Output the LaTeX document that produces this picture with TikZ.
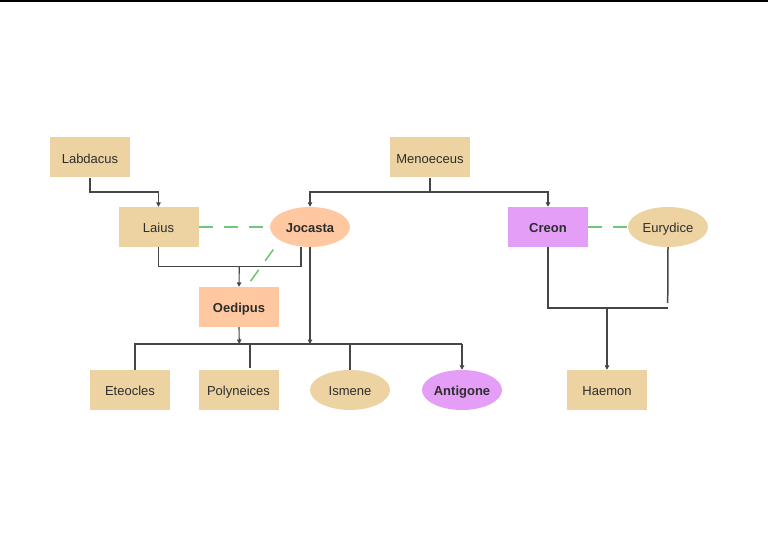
\documentclass[tikz,border=0pt]{standalone}
\usepackage{fontspec}
\setmainfont{Liberation Sans}
\usetikzlibrary{arrows.meta,shapes.geometric}
\definecolor{tan}{RGB}{237,211,161}
\definecolor{peach}{RGB}{255,200,160}
\definecolor{lilac}{RGB}{229,158,248}
\definecolor{mate}{RGB}{110,200,120}
\definecolor{txt}{RGB}{45,45,45}
\definecolor{ln}{RGB}{70,70,70}
\tikzset{
  box/.style={rectangle,draw=none,minimum width=80pt,minimum height=40pt,inner sep=0pt,text=txt,font=\fontsize{13}{15}\selectfont,text height=13.4pt,text depth=2pt},
  oval/.style={ellipse,draw=none,minimum width=80pt,minimum height=40pt,inner sep=0pt,text=txt,font=\fontsize{13}{15}\selectfont,text height=13.4pt,text depth=2pt},
  heavy/.style={font=\fontsize{13}{15}\selectfont\bfseries},
  link/.style={draw=ln,line width=1.1pt},
  arr/.style={link,-{Triangle[width=4.5pt,length=4.5pt]}},
  marriage/.style={draw=mate,line width=1.6pt,dash pattern=on 14pt off 11pt}
}
\begin{document}
\begin{tikzpicture}[x=1pt,y=-1pt]
\useasboundingbox (0,0) rectangle (768,548);
\fill[white] (0,0) rectangle (768,548);
\coordinate (tl) at (0,0.8);
\coordinate (tr) at (768,0.8);
\draw[line width=1.8pt,black] (tl) -- (tr);

\node[box,fill=tan] (Labdacus) at (90,157.5) {Labdacus};
\node[box,fill=tan] (Menoeceus) at (430,157.5) {Menoeceus};
\node[box,fill=tan] (Laius) at (158.5,227) {Laius};
\node[oval,fill=peach,heavy] (Jocasta) at (310,227) {Jocasta};
\node[box,fill=lilac,heavy] (Creon) at (548,227) {Creon};
\node[oval,fill=tan] (Eurydice) at (668,227) {Eurydice};
\node[box,fill=peach,heavy] (Oedipus) at (239,307) {Oedipus};
\node[box,fill=tan] (Eteocles) at (130,390) {Eteocles};
\node[box,fill=tan] (Polyneices) at (238.5,390) {Polyneices};
\node[oval,fill=tan] (Ismene) at (350,390) {Ismene};
\node[oval,fill=lilac,heavy] (Antigone) at (462,390) {Antigone};
\node[box,fill=tan] (Haemon) at (607,390) {Haemon};

% Labdacus -> Laius
\draw[arr] (Labdacus.south) |- (158.5,192) -- (Laius.north);
% Menoeceus -> Jocasta, Creon
\draw[link] (Menoeceus.south) -- (430,192);
\draw[arr] (430,192) -| (Jocasta.north);
\draw[arr] (430,192) -| (Creon.north);

% marriages
\draw[marriage] (Laius.east) -- (Jocasta.west);
\draw[marriage] (Creon.east) -- (Eurydice.west);
\coordinate (jd) at (278,243);
\coordinate (od) at (246.4,287);
\draw[marriage,dash phase=17pt] (jd) -- (od);

% Laius + Jocasta -> Oedipus
\coordinate (lj) at (239.3,266.7);
\draw[link] (Laius.south) |- (lj) -| (301,246.5);
\draw[arr] (lj) -- (Oedipus.north);

% children bus
\coordinate (bus) at (239.3,344);
\coordinate (jbus) at (310,344);
\draw[arr] (Oedipus.south) -- (bus);
\draw[arr] (310,247) -- (jbus);
\draw[link] (135,370) |- (462,344);
\draw[arr] (462,344) -- (Antigone.north);
\coordinate (pb) at (250,344);
\coordinate (pe) at (250,368);
\draw[link] (pb) -- (pe);
\coordinate (ib) at (350,344);
\draw[link] (ib) -- (Ismene.north);

% Creon + Eurydice -> Haemon
\coordinate (ce) at (607,308);
\draw[link] (Creon.south) |- (667.7,308);
\draw[link,line width=1.5pt] (Eurydice.south) -- (667.7,303);
\draw[arr] (ce) -- (Haemon.north);
\end{tikzpicture}
\end{document}
